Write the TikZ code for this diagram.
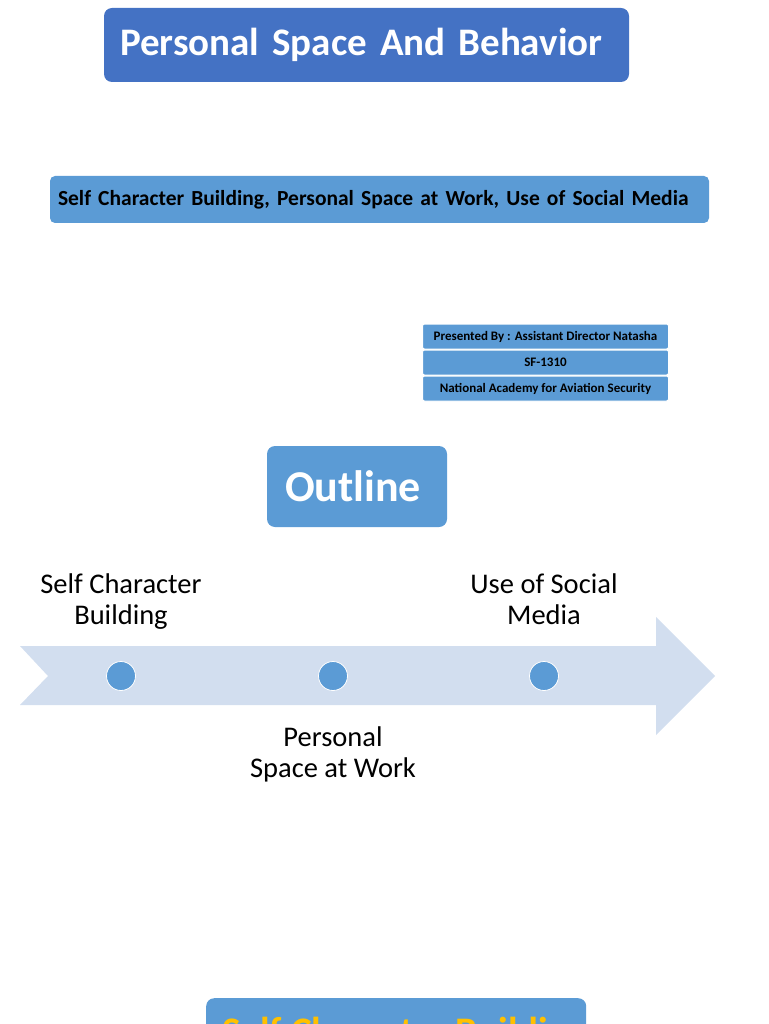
\documentclass[tikz,border=0pt]{standalone}
\usepackage{fontspec}
\setmainfont{Carlito}
\usepackage{xcolor}
\usepackage{tikz}
\usetikzlibrary{positioning}
\definecolor{titleblue}{HTML}{4472C4}
\definecolor{boxblue}{HTML}{5B9BD5}
\definecolor{arrowblue}{HTML}{D2DEEF}
\definecolor{slidegold}{HTML}{FFC000}
\def\bigfont{\fontsize{39}{46}\selectfont}

\begin{document}
\begin{tikzpicture}[x=1pt,y=-1pt,
	titlebox/.style={fill=titleblue,rounded corners=8pt,text=white,font=\bfseries\bigfont,
		minimum height=74pt,text width=493pt,inner xsep=16pt,inner ysep=0pt,align=left},
	bluebox/.style={fill=boxblue,rounded corners=5pt,inner sep=0pt},
	infobox/.style={bluebox,rounded corners=2pt,draw=white,line width=1pt,minimum width=246pt,
		minimum height=25pt,font=\bfseries\fontsize{13}{15}\selectfont},
	dot/.style={circle,fill=boxblue,draw=white,line width=0.8pt,minimum size=29pt,inner sep=0pt},
	steplabel/.style={align=center,font=\fontsize{28.5}{31}\selectfont,inner sep=0pt,text depth=7pt}]
	\useasboundingbox (0,0) rectangle (768,1024);
	\clip (0,0) rectangle (768,1024);
	% title
	\node[titlebox] (title) at (366.5,45) {Personal Space And Behavior};
	\node[bluebox,minimum height=47pt,text width=651pt,inner xsep=4pt,align=left,
		font=\bfseries\fontsize{21.5}{26}\selectfont]
		(topics) at (379.5,199.5) {\hspace*{4pt}Self Character Building, Personal Space at Work, Use of Social Media};
	% presenter
	\node[infobox] (presenter) at (545.5,336.5) {Presented By : Assistant Director Natasha};
	\node[infobox,below=0pt of presenter] (code) {SF-1310};
	\node[infobox,below=0pt of code] (academy) {National Academy for Aviation Security};
	% outline
	\node[bluebox,rounded corners=8pt,minimum height=81pt,text width=144pt,inner xsep=18pt,
		align=left,text=white,font=\bfseries\fontsize{44}{48}\selectfont]
		(outline) at (357,486.5) {Outline};
	\fill[arrowblue] (20,646) -- (656,646) -- (656,617) -- (715,676) -- (656,735)
		-- (656,705) -- (20,705) -- (48,676) -- cycle;
	\node[dot] (d1) at (121,676) {};
	\node[dot] (d2) at (333,676) {};
	\node[dot] (d3) at (544,676) {};
	\node[steplabel,above=29pt of d1] (l1) {Self Character\\Building};
	\node[steplabel,below=36pt of d2] (l2) {Personal\\Space at Work};
	\node[steplabel,above=29pt of d3] (l3) {Use of Social\\Media};
	% next slide
	\node[bluebox,rounded corners=8pt,minimum width=380pt,minimum height=81pt,anchor=north west] (next) at (206,998) {};
	\node[anchor=base west,inner sep=0pt,text=slidegold,font=\bfseries\bigfont] (nexttitle) at (222,1044)
		{Self Character Building};
\end{tikzpicture}
\end{document}
